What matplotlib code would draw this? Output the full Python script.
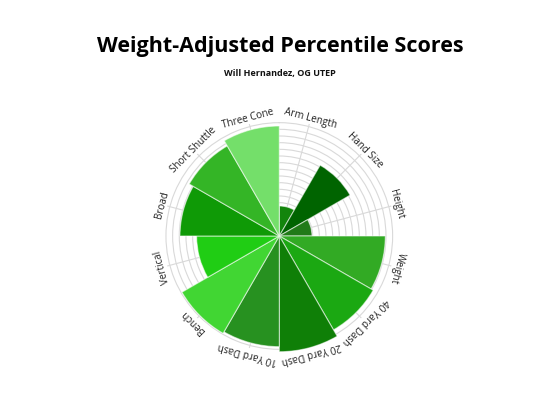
import numpy as np
from matplotlib import pyplot as plt

# Percentile scores per drill, clockwise from the top
categories = ['Arm Length', 'Hand Size', 'Height', 'Weight', '40 Yard Dash',
              '20 Yard Dash', '10 Yard Dash', 'Bench', 'Vertical', 'Broad',
              'Short Shuttle', 'Three Cone']
scores = [22.5, 61.3, 24.5, 79.5, 81.3, 86.8, 83.0, 84.3, 62.0, 74.5, 78.0, 82.5]
bar_colors = ['#13850c', '#006400', '#217a18', '#32aa24', '#1ba812', '#0f7f07',
              '#279120', '#41d633', '#20cd14', '#0f9a06', '#34b526', '#74df6a']
ring_values = np.arange(5, 90, 5)

title = 'Weight-Adjusted Percentile Scores'
subtitle = 'Will Hernandez, OG UTEP'

fig = plt.figure(figsize=(5.6, 4.2), dpi=100)
fig.patch.set_facecolor('white')

ax = fig.add_axes([0.2916, 0.1619, 0.4143, 0.5524], projection='polar')
ax.set_theta_zero_location('N')
ax.set_theta_direction(-1)

n = len(categories)
width = 2 * np.pi / n
theta = np.arange(n) * width + width / 2

ax.bar(theta, scores, width=width, color=bar_colors,
       edgecolor=(1, 1, 1, 0.55), linewidth=0.8, zorder=3)

ax.set_ylim(0, 87)
ax.set_yticks(ring_values)
ax.set_yticklabels([])
ax.set_xticks(theta)
ax.set_xticklabels([])
ax.grid(True, color='#d9d9d9', linewidth=0.8)
ax.set_axisbelow(True)
ax.spines['polar'].set_visible(False)
ax.tick_params(length=0)

# tangential category labels just outside the outer ring
for t, label in zip(theta, categories):
    rot = -np.degrees(t)
    ax.text(t, 87, label, rotation=rot, rotation_mode='anchor',
            ha='center', va='bottom', fontsize=7.1, color='#222222',
            family='Open Sans')

fig.text(0.5, 0.89, title, ha='center', va='center', fontsize=15.5,
         fontweight='bold', family='Open Sans', color='black')
fig.text(0.5, 0.826, subtitle, ha='center', va='center', fontsize=6.5,
         fontweight='bold', family='Open Sans', color='#111111')

plt.savefig('out.png', dpi=100, facecolor='white')
plt.close()
